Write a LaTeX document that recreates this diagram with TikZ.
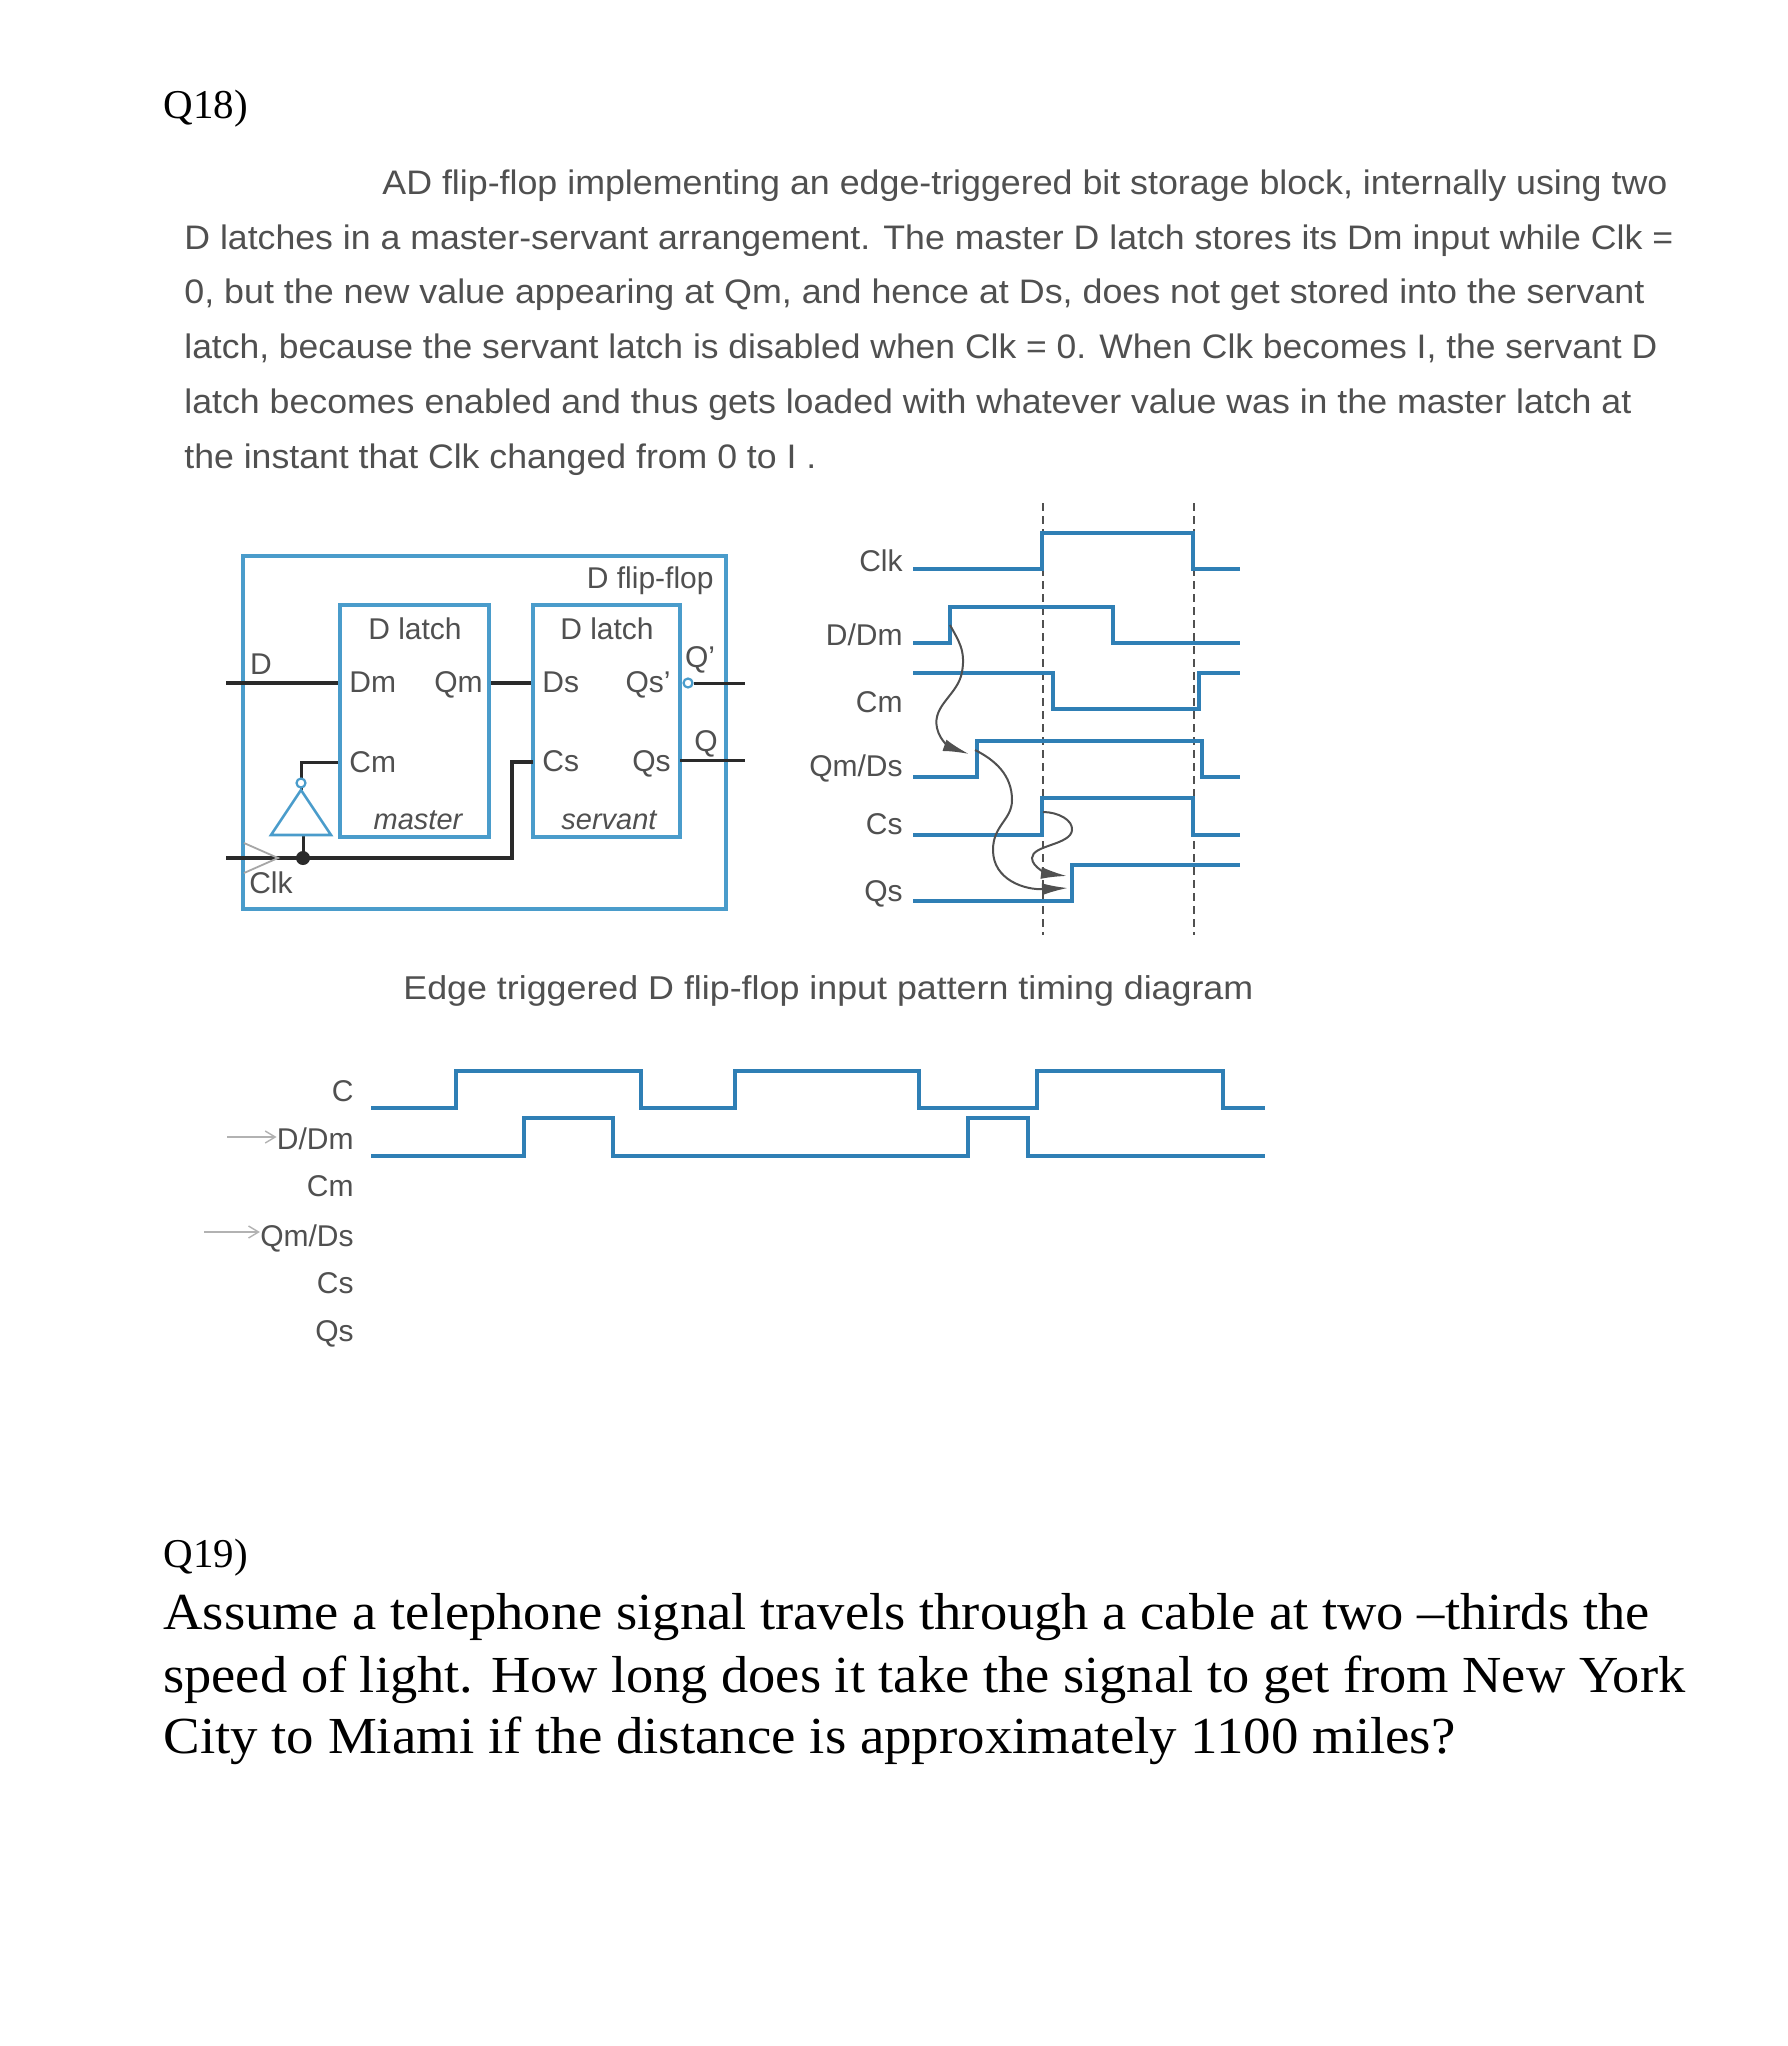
\documentclass[tikz,border=0pt]{standalone}
\usepackage{graphicx}
\usepackage{fontspec}
\setmainfont{Liberation Sans}
\newfontfamily\serifface{Liberation Serif}
\usetikzlibrary{arrows.meta}
\definecolor{wireblue}{HTML}{2F7FB5}
\definecolor{boxblue}{HTML}{4A9CCB}
\definecolor{inkgray}{HTML}{505050}
\definecolor{wiredark}{HTML}{2A2A2A}
\tikzset{
  para/.style={anchor=mid west,inner sep=0pt,yshift=-3.25pt,text=inkgray,font=\fontsize{17}{20}\selectfont},
  qhead/.style={anchor=mid west,inner sep=0pt,yshift=-4.5pt,text=black,font=\fontsize{20.5}{24}\serifface},
  qbody/.style={anchor=mid west,inner sep=0pt,yshift=-5.5pt,text=black,font=\fontsize{26}{30}\serifface},
  lbl/.style={inner sep=0pt,yshift=-2pt,text=inkgray,font=\fontsize{15}{18}\selectfont},
  lble/.style={lbl,anchor=mid east},
  lblw/.style={lbl,anchor=mid west},
  lblc/.style={lbl,anchor=mid},
  ital/.style={lbl,anchor=mid,font=\fontsize{14.5}{18}\selectfont\itshape},
  bluebox/.style={draw=boxblue,line width=2pt,inner sep=0pt,fill=none},
  wire/.style={draw=wiredark,line width=1.7pt},
  thinblue/.style={draw=boxblue,line width=1.3pt,fill=white},
  wave/.style={draw=wireblue,line width=2.2pt,line join=miter},
  guide/.style={draw=inkgray,line width=.9pt,dash pattern=on 4pt off 2.5pt},
  cause/.style={draw=inkgray,line width=1pt,-{Latex[length=13pt,width=6pt]}},
  hint/.style={draw=gray!60,line width=.7pt,-{Straight Barb[length=5pt,width=6pt]}}
}
\begin{document}
\begin{tikzpicture}[x=0.5pt,y=-0.5pt]
\useasboundingbox[fill=white] (0,0) rectangle (1788,2046);

\node[qhead] (q18) at (163,104) {Q18)};
\node[para] (p1) at (382,183) {\resizebox{642.5pt}{\height}{AD flip-flop implementing an edge-triggered bit storage block, internally using two}};
\node[para] (p2) at (184,238) {\resizebox{744.5pt}{\height}{D latches in a master-servant arrangement. The master D latch stores its Dm input while Clk =}};
\node[para] (p3) at (184,292) {\resizebox{730pt}{\height}{0, but the new value appearing at Qm, and hence at Ds, does not get stored into the servant}};
\node[para] (p4) at (184,347) {\resizebox{736.5pt}{\height}{latch, because the servant latch is disabled when Clk = 0. When Clk becomes I, the servant D}};
\node[para] (p5) at (184,402) {\resizebox{723.5pt}{\height}{latch becomes enabled and thus gets loaded with whatever value was in the master latch at}};
\node[para] (p6) at (184,457) {\resizebox{316pt}{\height}{the instant that Clk changed from 0 to I .}};

% flip-flop block
\node[bluebox,minimum width=241.5pt,minimum height=176.5pt] (ff) at (484.5,732.5) {};
\node[bluebox,minimum width=74.5pt,minimum height=116pt] (master) at (414.5,721) {};
\node[bluebox,minimum width=73.5pt,minimum height=116pt] (servant) at (606.5,721) {};
\node[lble] (fflabel) at (714,579) {D flip-flop};
\node[lblc] (latchm) at (415,630) {D latch};
\node[lblc] (latchs) at (607,630) {D latch};
\node[lblw] (dm) at (349,683) {Dm};
\node[lble] (qm) at (483,683) {Qm};
\node[lblw] (cm) at (349,763) {Cm};
\node[lblw] (ds) at (542,683) {Ds};
\node[lble] (qsb) at (671,683) {Qs'};
\node[lblw] (cs) at (542,762) {Cs};
\node[lble] (qs) at (671,762) {Qs};
\node[ital] (mastertxt) at (418,820) {master};
\node[ital] (servanttxt) at (609,820) {servant};
\node[lblc] (dtxt) at (261,665) {D};
\node[lblc] (qbtxt) at (700,658) {Q'};
\node[lblc] (qtxt) at (706,742) {Q};
\node[lblc] (clktxt) at (271,884) {Clk};

\coordinate (din) at (226,683);
\coordinate (qbout) at (745,683);
\coordinate (qout) at (745,760);
\coordinate (clkin) at (226,858);
\coordinate (clkdot) at (303,858);
\coordinate (clkturn) at (512,858);
\coordinate (cmturn) at (301,762);
\coordinate (csport) at (533,762);
\coordinate (qsport) at (680,760);
\coordinate (invapex) at (301,790);

\draw[wire] (din) -- (din -| master.west);
\draw[wire] (master.east |- din) -- (servant.west |- din);
\draw[wire] (clkin) -- (clkturn) -- (clkturn |- csport) -- (csport);
\draw[wire,line width=1.5pt] (qsport) -- (qout);
\draw[wire,line width=1.5pt] (694,683) -- (qbout);
\draw[wire,line width=1.5pt] (master.west |- cmturn) -- (cmturn) -- (invapex);
\draw[wire,line width=1.5pt] (303,835) -- (clkdot);
\draw[thinblue] (invapex) -- (331,835) -- (271,835) -- cycle;
\node[draw=boxblue,line width=1.1pt,fill=white,circle,minimum size=4.5pt,inner sep=0pt] (invbubble) at (301,783) {};
\node[draw=boxblue,line width=1.1pt,fill=white,circle,minimum size=4.5pt,inner sep=0pt] (qbbubble) at (688,683) {};
\node[fill=wiredark,circle,minimum size=7pt,inner sep=0pt] (dot) at (clkdot) {};
\draw[draw=gray!70,line width=.9pt] (244,843) -- (278,858) -- (244,873);

% timing diagram (top)
\node[lble] (tclk) at (903,562) {Clk};
\node[lble] (tddm) at (903,636) {D/Dm};
\node[lble] (tcm) at (903,703) {Cm};
\node[lble] (tqds) at (903,767) {Qm/Ds};
\node[lble] (tcs) at (903,825) {Cs};
\node[lble] (tqs) at (903,892) {Qs};

\draw[guide] (1043,503) -- (1043,935);
\draw[guide] (1194,503) -- (1194,935);

\draw[wave] (913,569) -- (1042,569) -- (1042,533) -- (1193,533) -- (1193,569) -- (1240,569);
\draw[wave] (913,643) -- (950,643) -- (950,607) -- (1113,607) -- (1113,643) -- (1240,643);
\draw[wave] (913,673) -- (1053,673) -- (1053,709) -- (1199,709) -- (1199,673) -- (1240,673);
\draw[wave] (913,777) -- (977,777) -- (977,741) -- (1202,741) -- (1202,777) -- (1240,777);
\draw[wave] (913,835) -- (1042,835) -- (1042,798) -- (1193,798) -- (1193,835) -- (1240,835);
\draw[wave] (913,901) -- (1072,901) -- (1072,865) -- (1240,865);

\draw[cause] (950,625) .. controls (958,640) and (966,650) .. (962,672)
  .. controls (958,695) and (932,705) .. (937,728)
  .. controls (940,742) and (952,748) .. (969,754);
\draw[cause] (975,750) .. controls (995,760) and (1012,775) .. (1012,800)
  .. controls (1012,820) and (993,825) .. (993,850)
  .. controls (993,880) and (1025,890) .. (1068,888);
\draw[cause] (1043,812) .. controls (1058,812) and (1073,820) .. (1072,830)
  .. controls (1071,845) and (1032,845) .. (1032,858)
  .. controls (1032,868) and (1050,874) .. (1067,876);

\node[para,anchor=mid west,font=\fontsize{16.5}{20}\selectfont] (caption) at (403,988) {\resizebox{425pt}{\height}{Edge triggered D flip-flop input pattern timing diagram}};

% timing diagram (bottom)
\node[lble] (bc) at (354,1092) {C};
\node[lble] (bddm) at (354,1140) {D/Dm};
\node[lble] (bcm) at (354,1187) {Cm};
\node[lble] (bqds) at (354,1237) {Qm/Ds};
\node[lble] (bcs) at (354,1284) {Cs};
\node[lble] (bqs) at (354,1332) {Qs};
\coordinate (hinta) at (227,1137);
\coordinate (hintb) at (204,1232);
\draw[hint] (hinta) -- (bddm.west |- hinta);
\draw[hint] (hintb) -- (bqds.west |- hintb);
\draw[wave] (371,1108) -- (456,1108) -- (456,1071) -- (641,1071) -- (641,1108) -- (735,1108) -- (735,1071) -- (919,1071) -- (919,1108) -- (1037,1108) -- (1037,1071) -- (1223,1071) -- (1223,1108) -- (1265,1108);
\draw[wave] (371,1156) -- (524,1156) -- (524,1118) -- (613,1118) -- (613,1156) -- (968,1156) -- (968,1118) -- (1028,1118) -- (1028,1156) -- (1265,1156);

% Q19
\node[qhead] (q19) at (163,1553) {Q19)};
\node[qbody] (b1) at (163,1613) {\resizebox{743pt}{\height}{Assume a telephone signal travels through a cable at two –thirds the}};
\node[qbody] (b2) at (163,1676) {\resizebox{761pt}{\height}{speed of light. How long does it take the signal to get from New York}};
\node[qbody] (b3) at (163,1737) {\resizebox{646pt}{\height}{City to Miami if the distance is approximately 1100 miles?}};
\end{tikzpicture}
\end{document}
